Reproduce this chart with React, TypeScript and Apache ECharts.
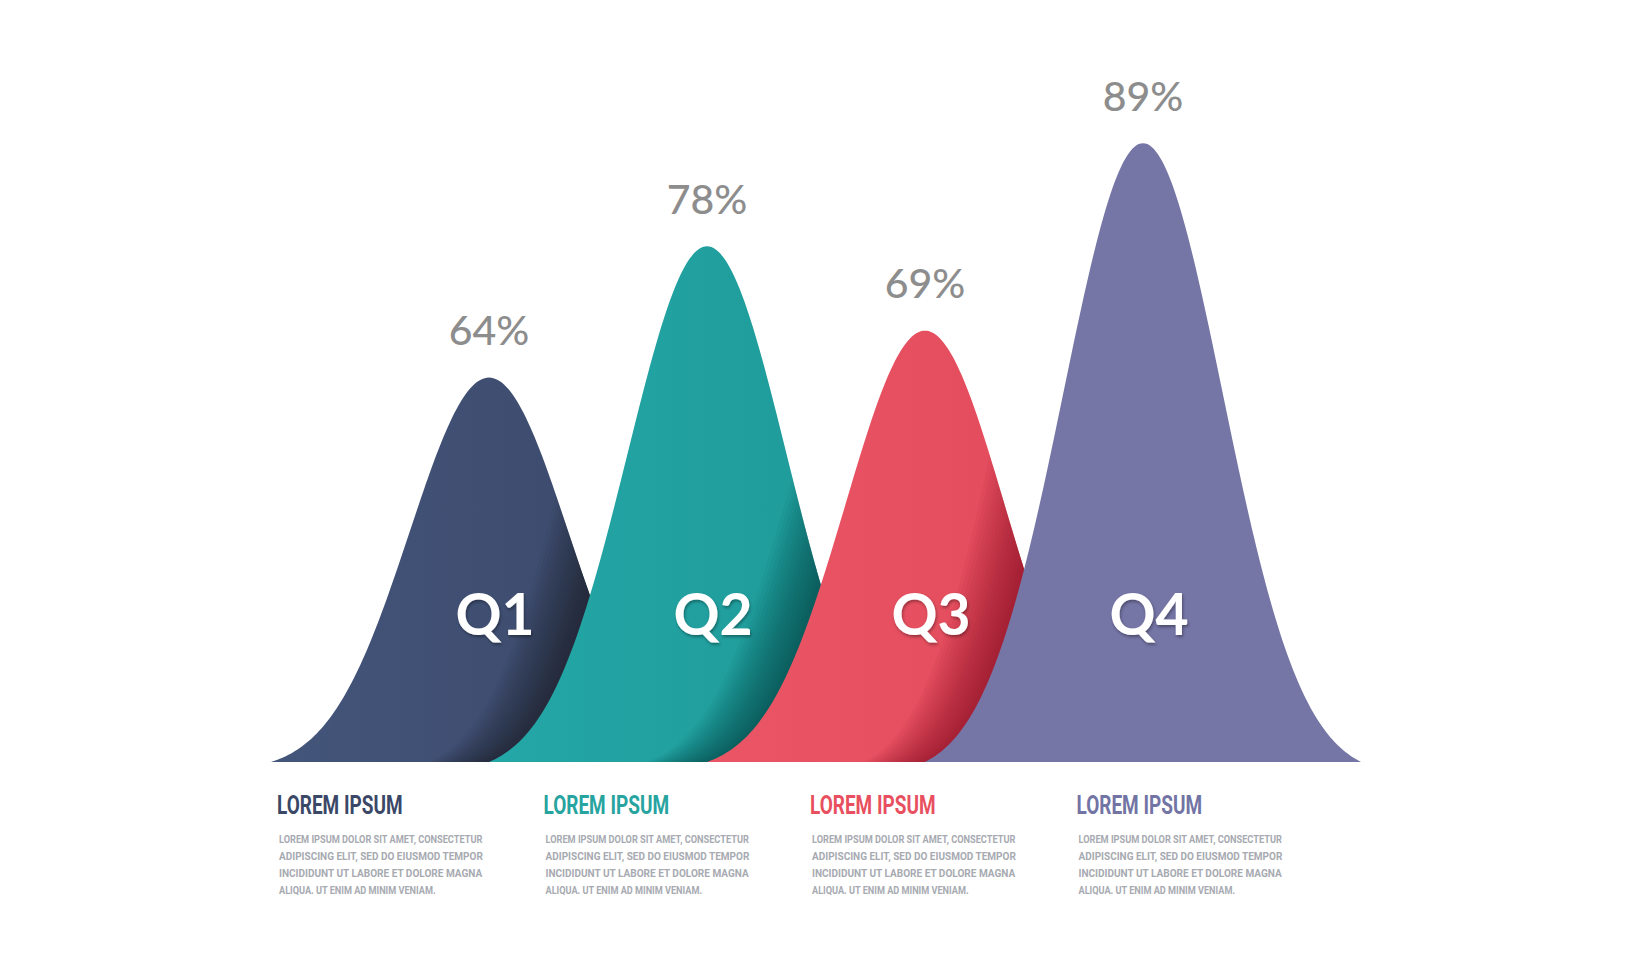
import React, { useEffect, useRef } from "react";
import * as echarts from "echarts";

const categories = ["Q1", "Q2", "Q3", "Q4"];
const values = [64, 78, 69, 89];
const valueLabels = ["64%", "78%", "69%", "89%"];
const bellColors = [
  ["#44557b", "#3a4868"],
  ["#24a7a7", "#1d9896"],
  ["#eb5667", "#df4858"],
  ["#7575a6", "#7575a6"],
];
const shadowColors = ["#10131c", "#00302d", "#75000f"];
const titleColors = ["#3b4767", "#27a3a0", "#e8505f", "#7274a4"];
const blockTitles = ["LOREM IPSUM", "LOREM IPSUM", "LOREM IPSUM", "LOREM IPSUM"];
const paragraphLines = [
  "LOREM IPSUM DOLOR SIT AMET, CONSECTETUR",
  "ADIPISCING ELIT, SED DO EIUSMOD TEMPOR",
  "INCIDIDUNT UT LABORE ET DOLORE MAGNA",
  "ALIQUA. UT ENIM AD MINIM VENIAM.",
];

const Y_MIN = 23;
const Y_MAX = 100;
const SIGMA = 0.365;

function bellHalfWidth(h: number, H: number, W: number) {
  const s = SIGMA * W;
  const gW = Math.exp((-W * W) / (2 * s * s));
  const r = Math.min(Math.max(h / H, 0), 1);
  const g = gW + (1 - gW) * r;
  return s * Math.sqrt(Math.max(0, -2 * Math.log(g)));
}

function bellPoints(cx: number, py: number, by: number, W: number) {
  const H = by - py;
  const s = SIGMA * W;
  const gW = Math.exp((-W * W) / (2 * s * s));
  const pts: number[][] = [];
  const N = 200;
  for (let k = 0; k <= N; k++) {
    const dx = -W + (2 * W * k) / N;
    const g = Math.exp((-dx * dx) / (2 * s * s));
    pts.push([cx + dx, by - (H * (g - gW)) / (1 - gW)]);
  }
  return pts;
}

function measure(text: string, font: string) {
  try {
    const c = document.createElement("canvas").getContext("2d");
    if (!c) return 0;
    c.font = font;
    return c.measureText(text).width;
  } catch (e) {
    return 0;
  }
}

export default function App() {
  const ref = useRef<HTMLDivElement>(null);
  useEffect(() => {
    if (!ref.current) return;
    const chart = echarts.init(ref.current, null, { renderer: "svg" });

    const renderItem = (params: any, api: any) => {
      const i = params.dataIndex;
      const pk = api.coord([i, api.value(1)]);
      const base = api.coord([i, Y_MIN]);
      const cx = pk[0];
      const py = pk[1];
      const by = base[1];
      const W = api.size([1, 0])[0];
      const H = by - py;
      const children: any[] = [];
      children.push({
        type: "polygon",
        shape: { points: bellPoints(cx, py, by, W) },
        style: {
          fill: new echarts.graphic.LinearGradient(0, 0, 1, 0, [
            { offset: 0, color: bellColors[i][0] },
            { offset: 1, color: bellColors[i][1] },
          ]),
        },
      });
      if (i < values.length - 1) {
        const pk2 = api.coord([i + 1, values[i + 1]]);
        const cx2 = pk2[0];
        const H2 = by - pk2[1];
        const NB = 16;
        for (let b = 1; b <= NB; b++) {
          const d = b * 3.8;
          const left: number[][] = [];
          const right: number[][] = [];
          for (let yy = by; yy >= py; yy -= 1.5) {
            const h = by - yy;
            if (h > H2) break;
            const hw = bellHalfWidth(h, H, W);
            const xr = cx + hw;
            const xl = cx - hw;
            const xe = cx2 - bellHalfWidth(h, H2, W) - d;
            const l = Math.max(xl, xe);
            if (l >= xr) break;
            left.push([l, yy]);
            right.push([xr, yy]);
          }
          if (left.length > 2) {
            children.push({
              type: "polygon",
              shape: { points: left.concat(right.reverse()) },
              style: { fill: shadowColors[i], opacity: 0.042 },
            });
          }
        }
      }
      children.push({
        type: "text",
        x: cx,
        y: py - 48,
        style: {
          text: valueLabels[i],
          fill: "#8d8d8d",
          fontSize: 41,
          fontFamily: "Lato, 'Noto Sans', sans-serif",
          fontWeight: 500,
          align: "center",
          verticalAlign: "middle",
        },
      });
      children.push({
        type: "text",
        x: cx + 6,
        y: by - 149,
        style: {
          text: categories[i],
          fill: "#ffffff",
          fontSize: 57,
          fontFamily: "Lato, 'Noto Sans', sans-serif",
          fontWeight: "bold",
          align: "center",
          verticalAlign: "middle",
          textShadowColor: "rgba(0,0,0,0.35)",
          textShadowBlur: 3,
          textShadowOffsetX: 1,
          textShadowOffsetY: 2,
        },
      });
      return { type: "group", children };
    };

    const paraFont = "bold 10.5px Roboto";
    const m4 = measure(paragraphLines[3], paraFont);
    const baseScale = m4 > 0 ? 157 / m4 : 0.8;
    const graphics: any[] = [];
    for (let b = 0; b < 4; b++) {
      const bx = 277 + b * 266.5;
      graphics.push({
        type: "text",
        x: bx,
        y: 805,
        scaleX: 0.76,
        style: {
          text: blockTitles[b],
          fill: titleColors[b],
          fontSize: 25,
          fontWeight: "bold",
          fontFamily: "Roboto, sans-serif",
          align: "left",
          verticalAlign: "middle",
        },
      });
      paragraphLines.forEach((line, li) => {
        let sc = baseScale;
        if (li < 3) {
          const m = measure(line, paraFont);
          sc = m > 0 ? 204 / m : 0.8;
        }
        graphics.push({
          type: "text",
          x: bx + 2,
          y: 839 + li * 17,
          scaleX: sc,
          style: {
            text: line,
            fill: "#a7aab1",
            fontSize: 10.5,
            fontWeight: "bold",
            fontFamily: "Roboto, sans-serif",
            align: "left",
            verticalAlign: "middle",
          },
        });
      });
    }

    chart.setOption({
      animation: false,
      backgroundColor: "#ffffff",
      grid: { left: 380, right: 381, top: 40, bottom: 218 },
      xAxis: {
        type: "category",
        data: categories,
        boundaryGap: true,
        show: false,
      },
      yAxis: { type: "value", min: Y_MIN, max: Y_MAX, show: false },
      series: [
        {
          type: "custom",
          renderItem,
          clip: false,
          data: values.map((v, i) => [i, v]),
        },
      ],
      graphic: graphics,
    });
    return () => chart.dispose();
  }, []);
  return (
    <div
      ref={ref}
      style={{ position: "fixed", left: 0, top: 0, width: "1633px", height: "980px" }}
    />
  );
}
